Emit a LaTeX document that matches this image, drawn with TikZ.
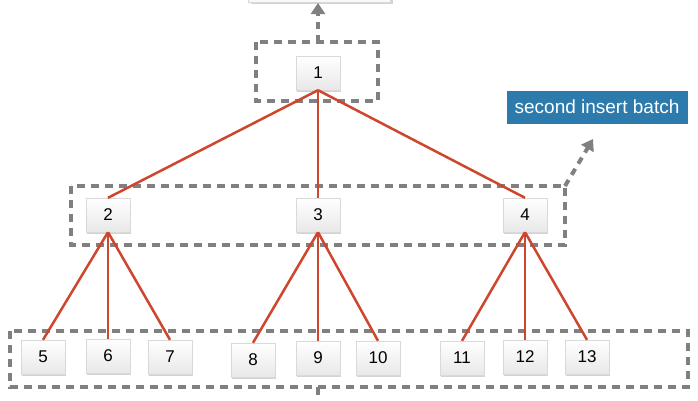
\documentclass[tikz,border=0pt]{standalone}
\usepackage{fontspec}
\setmainfont{Liberation Sans}
\usetikzlibrary{shadows,arrows.meta}
\definecolor{edgec}{RGB}{205,70,45}
\definecolor{bluec}{RGB}{45,122,172}
\begin{document}
\begin{tikzpicture}[x=1pt,y=-1pt,
  nd/.style={draw=gray!30,top color=white,bottom color=gray!18,minimum width=44pt,minimum height=34pt,inner sep=0pt,font=\fontsize{17}{17}\selectfont,drop shadow={shadow xshift=0.5pt,shadow yshift=-2pt,opacity=0.35}},
  grp/.style={draw=gray,line width=4pt,dash pattern=on 8pt off 6pt},
  edge/.style={draw=edgec,line width=2.5pt},
  darr/.style={draw=gray,line width=4pt,dash pattern=on 7pt off 6pt,-{Triangle[length=11pt,width=14pt]}}]
\useasboundingbox (0,0) rectangle (698,400);
\node[draw=gray!30,fill=gray!5,minimum width=142pt,minimum height=10pt,drop shadow={shadow yshift=-2pt,opacity=0.35}] (top) at (319,-3) {};
\draw[grp] (256,42) rectangle (378,101);
\draw[grp] (71,186) rectangle (565,245);
\draw[grp] (10,331) rectangle (688,387);
\coordinate (g1) at (318,42);
\coordinate (g2) at (565,186);
\coordinate (g3) at (318,387);
\coordinate (g3e) at (318,400);
\node[fill=bluec,text=white,minimum width=181pt,minimum height=33pt,inner sep=0pt,font=\fontsize{19}{19}\selectfont] (sib) at (597,107) {second insert batch};
\draw[darr] (g1) -- (318,3);
\draw[darr] (g2) -- (593,139);
\draw[grp] (g3) -- (g3e);
\node[nd] (n1) at (318,73) {1};
\node[nd] (n2) at (108,215) {2};
\node[nd] (n3) at (318,215) {3};
\node[nd] (n4) at (525,215) {4};
\node[nd] (n5) at (43,357) {5};
\node[nd] (n6) at (108,356) {6};
\node[nd] (n7) at (170,357) {7};
\node[nd] (n8) at (253,360) {8};
\node[nd] (n9) at (318,358) {9};
\node[nd] (n10) at (378,358) {10};
\node[nd] (n11) at (462,358) {11};
\node[nd] (n12) at (525,357) {12};
\node[nd] (n13) at (587,357) {13};
\foreach \p/\c in {n1/n2,n1/n3,n1/n4,n2/n5,n2/n6,n2/n7,n3/n8,n3/n9,n3/n10,n4/n11,n4/n12,n4/n13}
  \draw[edge] (\p.south) -- (\c.north);
\end{tikzpicture}
\end{document}
